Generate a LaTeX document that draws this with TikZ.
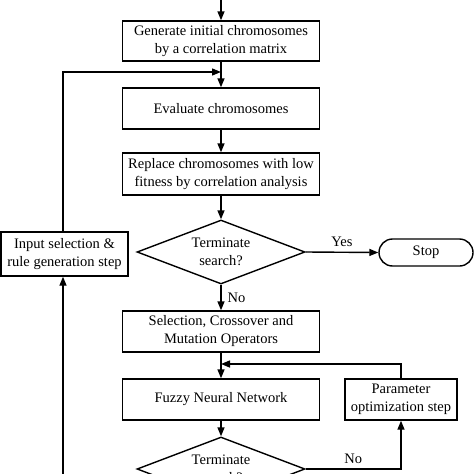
\documentclass[tikz,border=0pt]{standalone}
\usepackage{fontspec}
\setmainfont{Liberation Serif}
\usetikzlibrary{shapes.geometric,shapes.misc,arrows.meta}
\begin{document}
\begin{tikzpicture}[x=1pt,y=-1pt,
  every node/.style={font=\fontsize{14.5}{18}\selectfont, align=center, inner sep=0pt},
  procbox/.style={draw, line width=1.4pt, minimum width=197pt, minimum height=41pt},
  sidebox/.style={draw, line width=1.4pt},
  decision/.style={draw, line width=1.4pt, diamond, aspect=2.6, minimum width=168pt, minimum height=64pt},
  term/.style={draw, line width=1.4pt, rounded rectangle, minimum width=94pt, minimum height=27pt},
  conn/.style={line width=1.4pt, -{Triangle[length=9pt,width=7pt]}},
  plain/.style={line width=1.4pt},
  lbl/.style={font=\fontsize{14.5}{18}\selectfont}]
\clip (0,0) rectangle (474,474);
\coordinate (top) at (221,-5);
\node[procbox, minimum height=40pt] (gen) at (221,41) {Generate initial chromosomes\\by a correlation matrix};
\node[procbox] (eval) at (221,108.5) {Evaluate chromosomes};
\node[procbox, minimum height=42pt] (repl) at (221,174) {Replace chromosomes with low\\fitness by correlation analysis};
\node[decision] (d1) at (221,252) {Terminate\\search?};
\node[term] (stop) at (426,252.5) {Stop};
\node[sidebox, minimum width=127pt, minimum height=44pt] (inp) at (64.5,254) {Input selection \&\\rule generation step};
\node[procbox] (sel) at (221,331.5) {Selection, Crossover and\\Mutation Operators};
\node[procbox] (fnn) at (221,399.5) {Fuzzy Neural Network};
\node[sidebox, minimum width=112pt, minimum height=41pt] (par) at (401,399.5) {Parameter\\optimization step};
\node[decision] (d2) at (221,469) {Terminate\\search?};
\coordinate (j1) at (221,72);
\coordinate (j2) at (221,364);
\coordinate (bot) at (63,490);

\draw[conn] (top) -- (gen.north);
\draw[conn] (gen.south) -- (eval.north);
\draw[conn] (eval.south) -- (repl.north);
\draw[conn] (repl.south) -- (d1.north);
\draw[conn] (d1.east) -- node[lbl, above=5pt] {Yes} (stop.west);
\draw[conn] (d1.south) -- node[lbl, right=6pt] {No} (sel.north);
\draw[conn] (sel.south) -- (fnn.north);
\draw[conn] (fnn.south) -- (d2.north);
\draw[conn] (d2.east) -- node[lbl, above=5pt] {No} (d2.east -| par.south) -- (par.south);
\draw[conn] (par.north) |- (j2);
\draw[conn] (inp.north -| 63,0) |- (j1);
\draw[conn] (bot) -- (bot |- inp.south);
\end{tikzpicture}
\end{document}
